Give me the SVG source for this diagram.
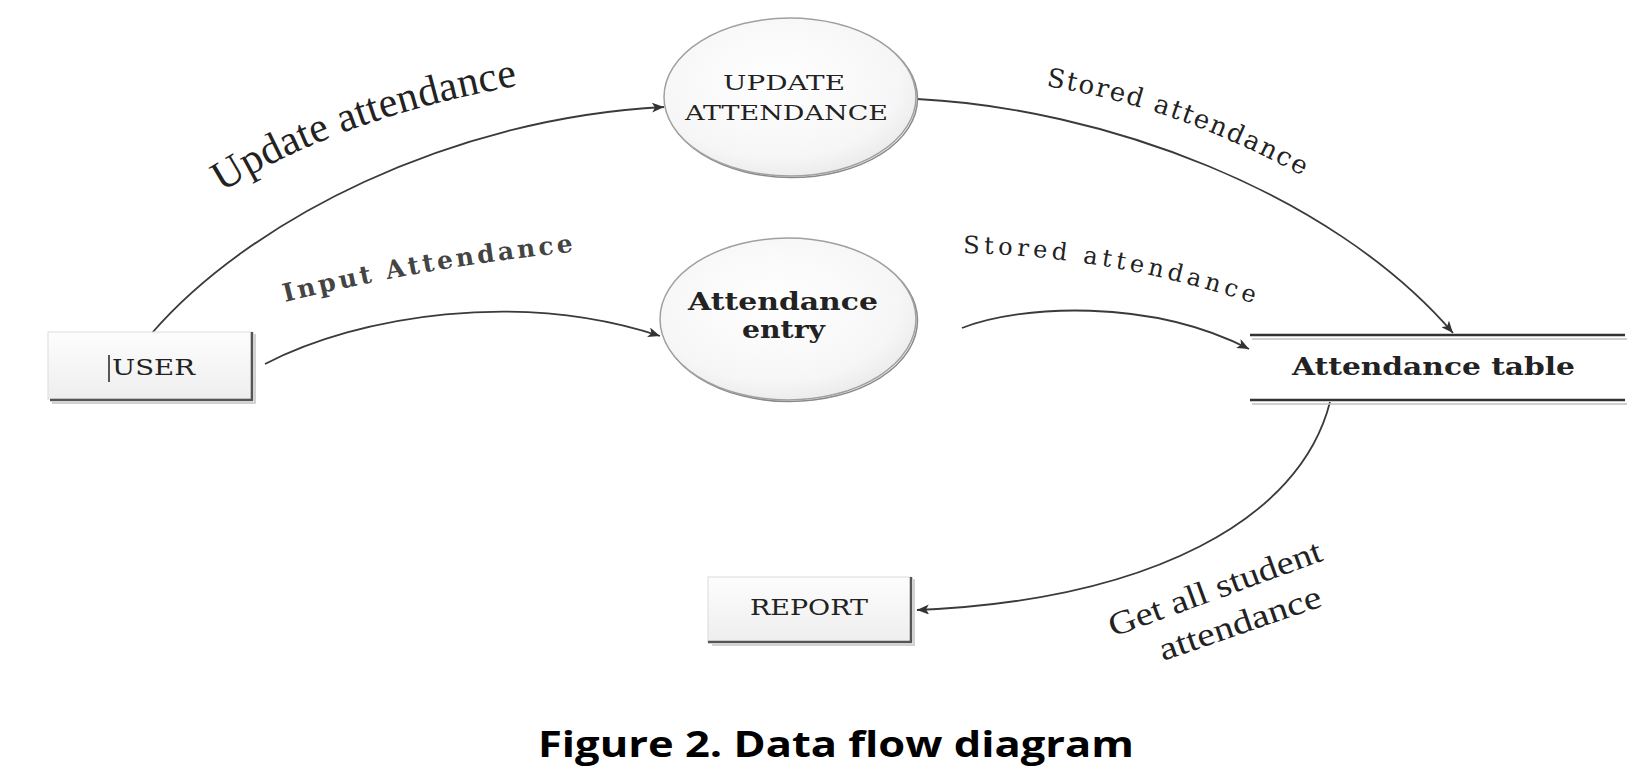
<svg xmlns="http://www.w3.org/2000/svg" width="1640" height="769" viewBox="0 0 1640 769">
<style>
.box{fill:url(#boxGrad);stroke:#dcdcdc;stroke-width:1}
.shadow{fill:none;stroke:#555;stroke-width:2.5}
.shadow2{fill:none;stroke:#c4c4c4;stroke-width:1.5}
.ell{fill:url(#ellGrad);stroke:#a0a0a0;stroke-width:1.5}
.ellsh{fill:none;stroke:#8a8a8a;stroke-width:1.5}
.slab{font-family:"DejaVu Serif","Liberation Serif",serif;fill:#222}
.serif{font-family:"Liberation Serif","Times New Roman",serif;fill:#222}
.wserif{font-family:"DejaVu Serif","Liberation Serif",serif;fill:#222}
.conn{fill:none;stroke:#3a3a3a;stroke-width:1.8}
.store{stroke:#333;stroke-width:2.5}
.store2{stroke:#c0c0c0;stroke-width:1.5}
</style>
<defs>
<linearGradient id="boxGrad" x1="0" y1="0" x2="0" y2="1">
<stop offset="0" stop-color="#fdfdfd"/>
<stop offset="1" stop-color="#eeeeee"/>
</linearGradient>
<radialGradient id="ellGrad" cx="0.45" cy="0.4" r="0.65">
<stop offset="0" stop-color="#ffffff"/>
<stop offset="0.75" stop-color="#f6f6f6"/>
<stop offset="1" stop-color="#e8e8e8"/>
</radialGradient>
<marker id="arrow" viewBox="0 0 12 10" refX="12" refY="5" markerWidth="12" markerHeight="10" markerUnits="userSpaceOnUse" orient="auto">
<path d="M0,0 L12,5 L0,10 L3,5 Z" fill="#333"/>
</marker>
<path id="pUpd" d="M222,192 Q340,118 516,86"/>
<path id="pInp" d="M285,302 Q420,268 572,252"/>
<path id="pSt1" d="M1046,86 Q1185,108 1320,186"/>
<path id="pSt2" d="M963,253 Q1120,256 1272,310"/>
</defs>
<rect width="1640" height="769" fill="#ffffff"/>

<g id="connectors">
<path class="conn" d="M152,333 C250,220 450,118 664,107" marker-end="url(#arrow)"/>
<path class="conn" d="M265,364 C360,315 520,290 660,336" marker-end="url(#arrow)"/>
<path class="conn" d="M917,99 C1100,108 1330,190 1453,333" marker-end="url(#arrow)"/>
<path class="conn" d="M962,328 C1020,305 1150,298 1249,349" marker-end="url(#arrow)"/>
<path class="conn" d="M1330,402 C1300,520 1150,600 917,610" marker-end="url(#arrow)"/>
<text class="serif" font-size="42"><textPath href="#pUpd" letter-spacing="0.3">Update attendance</textPath></text>
<text class="wserif" font-size="25" font-weight="bold" fill-opacity="0.85"><textPath href="#pInp" letter-spacing="3.2">Input Attendance</textPath></text>
<text class="wserif" font-size="26"><textPath href="#pSt1" letter-spacing="1.8">Stored attendance</textPath></text>
<text class="wserif" font-size="24"><textPath href="#pSt2" letter-spacing="4.4">Stored attendance</textPath></text>
<text class="serif" font-size="33" x="1113" y="637" textLength="225" lengthAdjust="spacingAndGlyphs" transform="rotate(-20 1113 637)">Get all student</text>
<text class="serif" font-size="33" x="1163" y="661" textLength="170" lengthAdjust="spacingAndGlyphs" transform="rotate(-19 1163 661)">attendance</text>
</g>

<g id="user">
<rect class="box" x="48" y="332" width="203" height="67"/>
<path class="shadow2" d="M255,334 V403 H52"/>
<path class="shadow" d="M252,332 V400 H50"/>
<line x1="109" y1="355" x2="109" y2="382" stroke="#222" stroke-width="1.5"/>
<text class="slab" font-size="23" x="112" y="375" textLength="83" lengthAdjust="spacingAndGlyphs">USER</text>
</g>

<g id="update-attendance">
<ellipse class="ellsh" cx="791.5" cy="98.5" rx="126" ry="79"/>
<ellipse class="ell" cx="790" cy="97" rx="126" ry="79"/>
<text class="slab" font-size="21" x="723" y="90" textLength="122" lengthAdjust="spacingAndGlyphs">UPDATE</text>
<text class="slab" font-size="21" x="685" y="120" textLength="203" lengthAdjust="spacingAndGlyphs">ATTENDANCE</text>
</g>

<g id="attendance-entry">
<ellipse class="ellsh" cx="789.5" cy="320.5" rx="128" ry="81"/>
<ellipse class="ell" cx="788" cy="319" rx="128" ry="81"/>
<text class="slab" font-size="24" font-weight="bold" x="688" y="310" textLength="190" lengthAdjust="spacingAndGlyphs">Attendance</text>
<text class="slab" font-size="24" font-weight="bold" x="742" y="338" textLength="83" lengthAdjust="spacingAndGlyphs">entry</text>
</g>

<g id="attendance-table">
<line class="store2" x1="1252" y1="339" x2="1627" y2="339"/>
<line class="store" x1="1250" y1="335" x2="1625" y2="335"/>
<line class="store2" x1="1252" y1="404" x2="1627" y2="404"/>
<line class="store" x1="1250" y1="400" x2="1625" y2="400"/>
<text class="slab" font-size="24" font-weight="bold" x="1292" y="375" textLength="283" lengthAdjust="spacingAndGlyphs">Attendance table</text>
</g>

<g id="report">
<rect class="box" x="708" y="577" width="203" height="65"/>
<path class="shadow2" d="M914,579 V645 H712"/>
<path class="shadow" d="M911,577 V642 H708"/>
<text class="slab" font-size="23" x="750" y="615" textLength="118" lengthAdjust="spacingAndGlyphs">REPORT</text>
</g>

<g id="caption">
<text font-family="'Open Sans','Noto Sans',sans-serif" font-weight="bold" font-size="36" x="538" y="757" textLength="596" lengthAdjust="spacingAndGlyphs" fill="#000">Figure 2. Data flow diagram</text>
</g>
</svg>
